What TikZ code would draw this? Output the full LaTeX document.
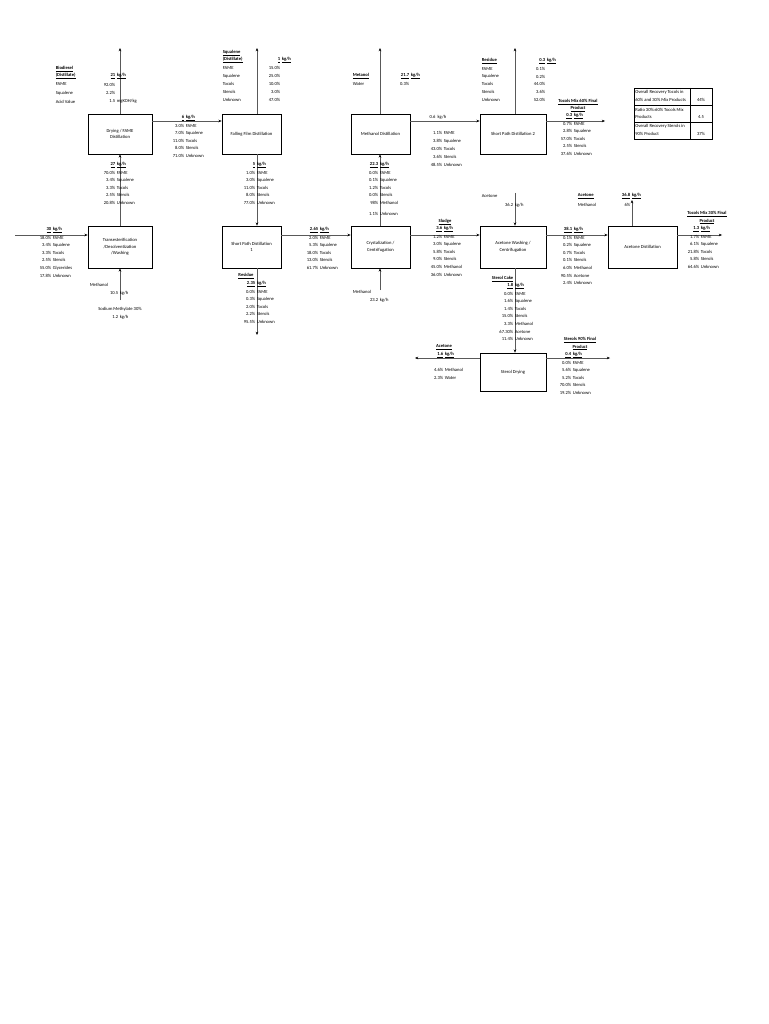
\documentclass[tikz,border=0pt]{standalone}
\usepackage{fontspec}
\setmainfont{Carlito}
\usetikzlibrary{arrows.meta}
\newcommand\hb[1]{\underline{\textbf{#1}}}
\begin{document}
\begin{tikzpicture}[x=1pt,y=-1pt,font=\fontsize{4.6}{5.6}\selectfont,
 box/.style={draw,line width=0.7pt,align=center,inner sep=1pt},
 fl/.style={draw=black!65,line width=0.6pt,-{Stealth[black,length=3.2pt,width=2.6pt]}},
 pl/.style={draw=black!65,line width=0.6pt},
 vl/.style={anchor=east,inner sep=0.6pt},
 ll/.style={anchor=west,inner sep=0.6pt},
 tx/.style={inner sep=0.6pt}]
\useasboundingbox (0,0) rectangle (768,1024);
\newcommand\stab[4]{% x, y header, header value, list
 \node[vl] at (#1,#2) {\hb{#3}}; \node[ll] at (#1,#2) {\hb{kg/h}};
 \foreach \v/\l [count=\i] in {#4} {
  \node[vl] at (#1,{#2+\i*7.6}) {\v}; \node[ll] at (#1,{#2+\i*7.6}) {\l};}}
% boxes
\def\bx#1#2#3#4#5#6{\node[box,minimum width=#4,minimum height=#5] (#1) at (#2,#3) {#6};}
\bx{dry}{120}{134}{64pt}{40pt}{Drying / FAME\\[1pt]Distillation}
\bx{ff}{251.5}{134}{59pt}{40pt}{Falling Film Distillation}
\bx{md}{380.5}{134}{59pt}{40pt}{Methanol Distillation}
\bx{sp2}{513}{134}{66pt}{40pt}{Short Path Distillation 2}
\bx{tr}{120}{247}{64pt}{42pt}{Transesterification\\[1pt]/Desolventization\\[1pt]/Washing}
\bx{sp1}{251.5}{247}{59pt}{42pt}{Short Path Distillation\\[1pt]1}
\bx{cr}{380.5}{247}{59pt}{42pt}{Crystalization /\\[1pt]Centrifugation}
\bx{aw}{513}{247}{66pt}{42pt}{Acetone Washing /\\[1pt]Centrifugation}
\bx{ad}{642.5}{247}{69pt}{42pt}{Acetone Distillation}
\bx{sd}{513}{372}{66pt}{38pt}{Sterol Drying}
% coordinates
\coordinate (feed) at (15,235);
\coordinate (dryout) at (120,48);
\coordinate (ffout) at (257,48);
\coordinate (mdout) at (380,48);
\coordinate (sp2out) at (515,48);
\coordinate (sp2r) at (605,121);
\coordinate (res1) at (257,335);
\coordinate (meoh1) at (120,300);
\coordinate (meoh2) at (380,290);
\coordinate (acin) at (515,193);
\coordinate (adout) at (632,200);
\coordinate (adr) at (722,235);
\coordinate (sdl) at (415,358);
\coordinate (sdr) at (610,358);
% connectors
\draw[fl] (feed) -- (feed -| tr.west);
\draw[fl] (tr.north) -- (dry.south);
\draw[fl] (dry.north) -- (dryout);
\draw[fl] (dry.east |- 0,121) -- (ff.west |- 0,121);
\draw[fl] (ff.north -| ffout) -- (ffout);
\draw[fl] (ff.south -| ffout) -- (sp1.north -| ffout);
\draw[fl] (sp1.south -| res1) -- (res1);
\draw[fl] (sp1.east |- 0,235) -- (cr.west |- 0,235);
\draw[fl] (meoh1) -- (tr.south);
\draw[fl] (cr.north -| mdout) -- (md.south -| mdout);
\draw[fl] (md.north -| mdout) -- (mdout);
\draw[fl] (meoh2) -- (cr.south -| meoh2);
\draw[fl] (md.east |- 0,121) -- (sp2.west |- 0,121);
\draw[fl] (sp2.north -| sp2out) -- (sp2out);
\draw[fl] (sp2.east |- sp2r) -- (sp2r);
\draw[fl] (cr.east |- 0,235) -- (aw.west |- 0,235);
\draw[fl] (acin) -- (aw.north -| acin);
\draw[fl] (aw.east |- 0,235) -- (ad.west |- 0,235);
\draw[fl] (ad.north -| adout) -- (adout);
\draw[fl] (ad.east |- adr) -- (adr);
\draw[fl] (aw.south -| acin) -- (sd.north -| acin);
\draw[fl] (sd.west |- sdl) -- (sdl);
\draw[fl] (sd.east |- sdr) -- (sdr);
% stream tables
\stab{52}{230}{30}{18.0\%/FAME,3.4\%/Squalene,3.3\%/Tocols,2.5\%/Sterols,55.0\%/Glycerides,17.8\%/Unknown}
\stab{116}{165}{27}{70.0\%/FAME,3.4\%/Squalene,3.3\%/Tocols,2.5\%/Sterols,20.8\%/Unknown}
\stab{185}{118}{6}{3.0\%/FAME,7.0\%/Squalene,11.0\%/Tocols,8.0\%/Sterols,71.0\%/Unknown}
\stab{256}{165}{5}{1.0\%/FAME,3.0\%/Squalene,11.0\%/Tocols,8.0\%/Sterols,77.0\%/Unknown}
\stab{256}{284}{2.35}{0.0\%/FAME,0.3\%/Squalene,2.0\%/Tocols,2.2\%/Sterols,95.5\%/Unknown}
\node[tx] (resA) at (246,276) {\hb{Residue}};
\stab{319}{230}{2.65}{2.0\%/FAME,5.3\%/Squalene,18.0\%/Tocols,13.0\%/Sterols,61.7\%/Unknown}
\stab{379}{165}{22.3}{0.0\%/FAME,0.1\%/Squalene,1.2\%/Tocols,0.0\%/Sterols,98\%/Methanol}
\node[vl] at (379,214) {1.1\%}; \node[ll] at (379,214) {Unknown};
\stab{573}{116}{0.3}{0.7\%/FAME,2.8\%/Squalene,57.0\%/Tocols,2.5\%/Sterols,37.6\%/Unknown}
\node[tx] at (578,102) {\hb{Tocols Mix 60\% Final}};
\node[tx] at (578,109) {\hb{Product}};
\stab{443}{229}{3.6}{1.2\%/FAME,3.0\%/Squalene,5.8\%/Tocols,9.0\%/Sterols,45.0\%/Methanol,36.0\%/Unknown}
\node[tx] at (445,222) {\hb{Sludge}};
\stab{573}{230}{38.1}{0.1\%/FAME,0.2\%/Squalene,0.7\%/Tocols,0.1\%/Sterols,6.0\%/Methanol,90.5\%/Acetone,2.4\%/Unknown}
\stab{700}{229}{1.3}{1.7\%/FAME,6.1\%/Squalene,21.8\%/Tocols,5.8\%/Sterols,64.6\%/Unknown}
\node[tx] at (707,214) {\hb{Tocols Mix 30\% Final}};
\node[tx] at (707,221.5) {\hb{Product}};
\stab{514}{286}{1.8}{0.0\%/FAME,1.6\%/Squalene,1.4\%/Tocols,15.0\%/Sterols,3.3\%/Methanol,67.30\%/Acetone,11.4\%/Unknown}
\node[vl] at (514,279) {\hb{Sterol Cake}};
\stab{572}{355}{0.4}{0.0\%/FAME,5.6\%/Squalene,5.2\%/Tocols,70.0\%/Sterols,19.2\%/Unknown}
\node[tx] at (580,340) {\hb{Sterols 90\% Final}};
\node[tx] at (580,347.5) {\hb{Product}};
% acetone from drying
\node[tx] at (444,347) {\hb{Acetone}};
\node[vl] at (444,355) {\hb{1.6}}; \node[ll] at (444,355) {\hb{kg/h}};
\node[vl] at (444,370) {4.6\%}; \node[ll] at (444,370) {Methanol};
\node[vl] at (444,378) {2.3\%}; \node[ll] at (444,378) {Water};
% biodiesel
\node[ll] at (55,69) {\hb{Biodiesel}};
\node[ll] at (55,76) {\hb{(Distillate)}};
\node[vl] at (116,76) {\hb{21}}; \node[ll] at (116,76) {\hb{kg/h}};
\node[ll] at (55,84.5) {FAME}; \node[vl] at (116,84.5) {92.0\%};
\node[ll] at (55,93) {Squalene}; \node[vl] at (116,93) {2.2\%};
\node[ll] at (55,101.5) {Acid Value}; \node[vl] at (116,101.5) {1.5}; \node[ll] at (116,101.5) {mgKOH/kg};
% squalene distillate
\node[ll] at (222,53) {\hb{Squalene}};
\node[ll] at (222,60) {\hb{(Distillate)}};
\node[vl] at (281,60) {\hb{1}}; \node[ll] at (281,60) {\hb{kg/h}};
\foreach \l/\v [count=\i] in {FAME/15.0\%,Squalene/25.0\%,Tocols/10.0\%,Sterols/3.0\%,Unknown/47.0\%}
 {\node[ll] at (222,{60+\i*8}) {\l}; \node[vl] at (281,{60+\i*8}) {\v};}
% SPD2 residue
\node[ll] at (481,61) {\hb{Residue}};
\node[vl] at (546,61) {\hb{0.3}}; \node[ll] at (546,61) {\hb{kg/h}};
\foreach \l/\v [count=\i] in {FAME/0.1\%,Squalene/0.2\%,Tocols/44.0\%,Sterols/3.6\%,Unknown/52.0\%}
 {\node[ll] at (481,{61+\i*7.8}) {\l}; \node[vl] at (546,{61+\i*7.8}) {\v};}
% metanol
\node[ll] at (352,76) {\hb{Metanol}};
\node[ll] at (352,84) {Water};
\node[vl] at (410,76) {\hb{21.7}}; \node[ll] at (410,76) {\hb{kg/h}};
\node[vl] at (410,84) {0.3\%};
% MD -> SPD2
\node[tx] at (438,117) {0.6\ \ kg/h};
\foreach \v/\l [count=\i] in {1.1\%/FAME,3.8\%/Squalene,43.0\%/Tocols,3.6\%/Sterols,48.5\%/Unknown}
 {\node[vl] at (443,{125+\i*8}) {\v}; \node[ll] at (443,{125+\i*8}) {\l};}
% methanol inputs
\node[ll] at (89,285) {Methanol};
\node[vl] at (119,293) {10.5}; \node[ll] at (119,293) {kg/h};
\node[tx] at (120,309) {Sodium Methylate 30\%};
\node[vl] at (119,317) {1.2}; \node[ll] at (119,317) {kg/h};
\node[ll] at (352,292) {Methanol};
\node[vl] at (379,300) {23.2}; \node[ll] at (379,300) {kg/h};
% acetone in
\node[ll] at (481,196) {Acetone};
\node[vl] at (514,205) {36.2}; \node[ll] at (514,205) {kg/h};
% acetone recovered
\node[ll] at (577,196) {\hb{Acetone}};
\node[ll] at (577,205) {Methanol};
\node[vl] at (631,196) {\hb{36.8}}; \node[ll] at (631,196) {\hb{kg/h}};
\node[vl] at (631,205) {6\%};
% summary table
\draw[line width=0.6pt] (634,88) rectangle (712,139);
\draw[line width=0.4pt] (634,105) -- (712,105) (634,122) -- (712,122) (690,88) -- (690,139);
\node[ll] at (634.5,92.5) {Overall Recovery Tocols in};
\node[ll] at (634.5,100) {60\% and 30\% Mix Products};
\node[tx] at (701,100) {44\%};
\node[ll] at (634.5,109.5) {Ratio 30\%:60\% Tocols Mix};
\node[ll] at (634.5,117) {Products};
\node[tx] at (701,117) {4.5};
\node[ll] at (634.5,126.5) {Overall Recovery Sterols in};
\node[ll] at (634.5,134) {90\% Product};
\node[tx] at (701,134) {37\%};
\end{tikzpicture}
\end{document}
